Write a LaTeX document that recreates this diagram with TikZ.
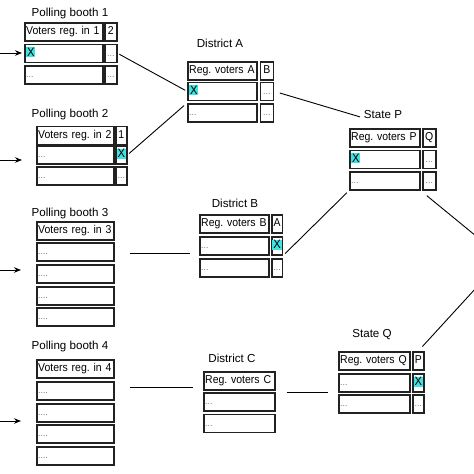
\documentclass[tikz,border=0pt]{standalone}
\usepackage{fontspec}
\setmainfont{Liberation Sans}
\newfontfamily\cellfam[FakeStretch=0.92]{Liberation Sans}
\usetikzlibrary{arrows.meta,calc}
\definecolor{bc}{HTML}{222222}
\definecolor{xc}{HTML}{3FE3E3}
\definecolor{dotc}{HTML}{7A7A7A}
\newcommand\cellfont{\cellfam\fontsize{11.4}{12}\selectfont}
\newcommand\titlefont{\fontsize{11.6}{13}\selectfont}
\newcommand\hlx{{\setlength\fboxsep{0.9pt}\colorbox{xc}{\fontsize{12.2}{13}\selectfont X}}}
\newcommand\dotsx{{\color{dotc}\fontsize{9.5}{10}\selectfont ...}}
\newcommand\dotsxx{{\color{dotc}\fontsize{9.5}{10}\selectfont ....}}
\begin{document}
\begin{tikzpicture}[x=1pt,y=-1pt,
  big/.style={draw=bc, line width=1.6pt, anchor=north west, minimum height=18pt,
    inner ysep=0pt, inner xsep=1.4pt, text width=#1, align=left, font=\cellfont,
    text height=8.2pt, text depth=2.2pt},
  sm/.style={draw=bc, line width=1.6pt, anchor=north west, minimum height=18pt,
    minimum width=#1, inner sep=0pt, font=\cellfont, text height=8.2pt, text depth=2.2pt},
  ttl/.style={font=\titlefont, inner sep=0pt},
  conn/.style={line width=0.9pt, draw=black},
  arr/.style={conn, -{Stealth[length=7pt,width=5.5pt]}}]
\useasboundingbox (0,0) rectangle (474,474);
\clip (0,0) rectangle (474,474);

% Polling booth 1
\node[ttl] (t1) at (70,13) {Polling booth 1};
\node[big=75.2pt] (b1r1) at (24,22) {Voters reg.\ in 1};
\node[big=75.2pt] (b1r2) at (24,43.5) {\hlx};
\node[big=75.2pt] (b1r3) at (24,65) {\dotsx};
\node[sm=12pt] (b1s1) at (104,22) {2};
\node[sm=12pt] (b1s2) at (104,43.5) {\dotsx};
\node[sm=12pt] (b1s3) at (104,65) {\dotsx};

% Polling booth 2
\node[ttl] (t2) at (70,114) {Polling booth 2};
\node[big=74.2pt] (b2r1) at (36,125.5) {Voters reg.\ in 2};
\node[big=74.2pt] (b2r2) at (36,145) {\dotsx};
\node[big=74.2pt] (b2r3) at (36,166) {\dotsx};
\node[sm=11pt] (b2s1) at (115,125.5) {1};
\node[sm=11pt] (b2s2) at (115,145) {\hlx};
\node[sm=11pt] (b2s3) at (115,166) {\dotsx};

% Polling booth 3
\node[ttl] (t3) at (70,213) {Polling booth 3};
\node[big=74.2pt] (b3r1) at (36,221) {Voters reg.\ in 3};
\node[big=74.2pt] (b3r2) at (36,242) {\dotsxx};
\node[big=74.2pt] (b3r3) at (36,264) {\dotsxx};
\node[big=74.2pt] (b3r4) at (36,286) {\dotsxx};
\node[big=74.2pt] (b3r5) at (36,307) {\dotsxx};

% Polling booth 4
\node[ttl] (t4) at (70,346) {Polling booth 4};
\node[big=74.2pt] (b4r1) at (36,359) {Voters reg.\ in 4};
\node[big=74.2pt] (b4r2) at (36,381) {\dotsxx};
\node[big=74.2pt] (b4r3) at (36,403) {\dotsxx};
\node[big=74.2pt] (b4r4) at (36,424) {\dotsxx};
\node[big=74.2pt] (b4r5) at (36,446) {\dotsxx};

% District A
\node[ttl] (tA) at (220,43) {District A};
\node[big=66.2pt] (dAr1) at (187,61) {Reg.\ voters A};
\node[big=66.2pt] (dAr2) at (187,81.5) {\hlx};
\node[big=66.2pt] (dAr3) at (187,103) {\dotsx};
\node[sm=13pt] (dAs1) at (259.5,61) {B};
\node[sm=13pt] (dAs2) at (259.5,81.5) {\dotsx};
\node[sm=13pt] (dAs3) at (259.5,103) {\dotsx};

% District B
\node[ttl] (tB) at (235,203) {District B};
\node[big=66.2pt] (dBr1) at (199,214) {Reg.\ voters B};
\node[big=66.2pt] (dBr2) at (199,236) {\dotsx};
\node[big=66.2pt] (dBr3) at (199,258) {\dotsx};
\node[sm=10.5pt] (dBs1) at (271,214) {A};
\node[sm=10.5pt] (dBs2) at (271,236) {\hlx};
\node[sm=10.5pt] (dBs3) at (271,258) {\dotsx};

% District C
\node[ttl] (tC) at (232,358) {District C};
\node[big=68.2pt] (dCr1) at (203,371) {Reg.\ voters C};
\node[big=68.2pt] (dCr2) at (203,392) {\dotsx};
\node[big=68.2pt] (dCr3) at (203,413.5) {\dotsx};

% State P
\node[ttl] (tP) at (383,115) {State P};
\node[big=67.2pt] (pr1) at (349,128) {Reg.\ voters P};
\node[big=67.2pt] (pr2) at (349,149.5) {\hlx};
\node[big=67.2pt] (pr3) at (349,171) {\dotsx};
\node[sm=13pt] (ps1) at (422,128) {Q};
\node[sm=13pt] (ps2) at (422,149.5) {\dotsx};
\node[sm=13pt] (ps3) at (422,171) {\dotsx};

% State Q
\node[ttl] (tQ) at (372,335) {State Q};
\node[big=68.2pt] (qr1) at (338,351) {Reg.\ voters Q};
\node[big=68.2pt] (qr2) at (338,373) {\dotsx};
\node[big=68.2pt] (qr3) at (338,394) {\dotsx};
\node[sm=11pt] (qs1) at (412,351) {P};
\node[sm=11pt] (qs2) at (412,373) {\hlx};
\node[sm=11pt] (qs3) at (412,394) {\dotsx};

% incoming arrows
\coordinate (a1s) at (0,53);   \coordinate (a1e) at (22,53);
\coordinate (a2s) at (0,160);  \coordinate (a2e) at (22,160);
\coordinate (a3s) at (0,270);  \coordinate (a3e) at (21,270);
\coordinate (a4s) at (0,421);  \coordinate (a4e) at (21,421);
\draw[arr] (a1s) -- (a1e);
\draw[arr] (a2s) -- (a2e);
\draw[arr] (a3s) -- (a3e);
\draw[arr] (a4s) -- (a4e);

% connectors
\draw[conn, shorten <=2pt, shorten >=2pt] (b1s2.east) -- (dAr2.west);
\draw[conn, shorten <=2pt, shorten >=4pt] (b2s2.east) -- (dAr3.north west);
\draw[conn, shorten <=15pt, shorten >=9pt] ($(b3r2.east)+(0,2)$) -- ($(b3r2.east -| dBr2.west)+(0,2)$);
\draw[conn, shorten <=15pt, shorten >=10pt] ($(b4r2.east)+(0,-3)$) -- ($(b4r2.east -| dCr1.west)+(0,-3)$);
\draw[conn, shorten <=11pt, shorten >=10pt] (qr2.south west -| dCr1.east) -- (qr2.south west);
\draw[conn, shorten <=6pt, shorten >=4pt] (dAs2.east) -- ($(tP.west)+(0,3)$);
\draw[conn, shorten <=3pt, shorten >=3pt] (dBs2.south east) -- (pr3.south west);
\coordinate (eP) at (476,236);
\coordinate (eQ) at (476,288);
\draw[conn, shorten <=8pt] (pr3.south east) -- (eP);
\draw[conn, shorten >=6pt] (eQ) -- (qs1.north);
\end{tikzpicture}
\end{document}
